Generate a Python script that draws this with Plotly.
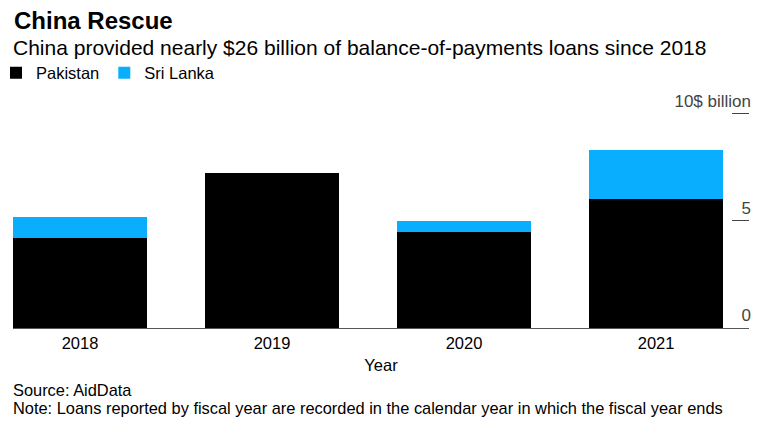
import plotly.graph_objects as go

# data (US$ billion)
years = ["2018", "2019", "2020", "2021"]
pakistan = [4.19, 7.22, 4.50, 6.01]
sri_lanka = [1.01, 0.0, 0.51, 2.30]

y_tickvals = [0, 5, 10]
y_ticktext = ["0", "5", "10$ billion"]

FONT = "Liberation Sans, Arial, sans-serif"
# page adds an 8px body margin, so the figure is drawn 8px smaller
OFF = 8
W, H = 768 - OFF, 432 - OFF
Y_TOP = 11.2
BASE = 328.3 - OFF          # baseline row inside the figure
L, R = 13 - OFF, W - (749 - OFF)
B = H - BASE
T = BASE - 21.46 * Y_TOP
ph = H - T - B
pw = W - L - R

def py(pix):
    # screen row -> paper y
    return (BASE - (pix - OFF)) / ph

def px(pix):
    # screen column -> paper x
    return (pix - OFF - L) / pw

fig = go.Figure()
fig.add_trace(go.Bar(x=years, y=pakistan, name="Pakistan",
                     marker=dict(color="#000000", line=dict(width=0))))
fig.add_trace(go.Bar(x=years, y=sri_lanka, name="Sri Lanka",
                     marker=dict(color="#0aaeff", line=dict(width=0))))

fig.update_layout(
    width=W, height=H,
    barmode="stack", bargap=0.302,
    plot_bgcolor="white", paper_bgcolor="white",
    margin=dict(l=L, r=R, t=T, b=B, autoexpand=False),
    font=dict(family=FONT, color="#000000"),
    showlegend=True,
    legend=dict(orientation="h", x=px(-4), xanchor="left", y=py(73), yanchor="middle",
                font=dict(size=16.5), itemwidth=30, traceorder="normal",
                bgcolor="rgba(0,0,0,0)"),
    xaxis=dict(range=[-0.349, 3.484], showgrid=False, showline=True,
               linecolor="#555555", linewidth=1.3, ticks="", automargin=False,
               tickfont=dict(size=16.5),
               title=dict(text="Year", font=dict(size=16.5), standoff=8)),
    yaxis=dict(range=[0, Y_TOP], side="right", showgrid=False, zeroline=False,
               automargin=False,
               tickvals=y_tickvals, ticktext=y_ticktext,
               ticks="inside", ticklen=17, tickcolor="#444444", tickwidth=1.3,
               ticklabelposition="inside top", ticklabelstandoff=-5,
               tickfont=dict(size=17)),
)

fig.add_annotation(text="<b>China Rescue</b>", xref="paper", yref="paper",
                   x=px(12), y=py(20), xanchor="left", yanchor="middle",
                   showarrow=False, font=dict(size=24))
fig.add_annotation(text="China provided nearly $26 billion of balance-of-payments loans since 2018",
                   xref="paper", yref="paper", x=px(11), y=py(47),
                   xanchor="left", yanchor="middle", showarrow=False,
                   font=dict(size=21))
fig.add_annotation(text="Source: AidData", xref="paper", yref="paper",
                   x=px(11), y=py(390), xanchor="left", yanchor="middle",
                   showarrow=False, font=dict(size=16.4))
fig.add_annotation(text="Note: Loans reported by fiscal year are recorded in the calendar year in which the fiscal year ends",
                   xref="paper", yref="paper", x=px(11), y=py(408), xanchor="left",
                   yanchor="middle", showarrow=False, font=dict(size=16.4))

fig.write_html("out.html")
